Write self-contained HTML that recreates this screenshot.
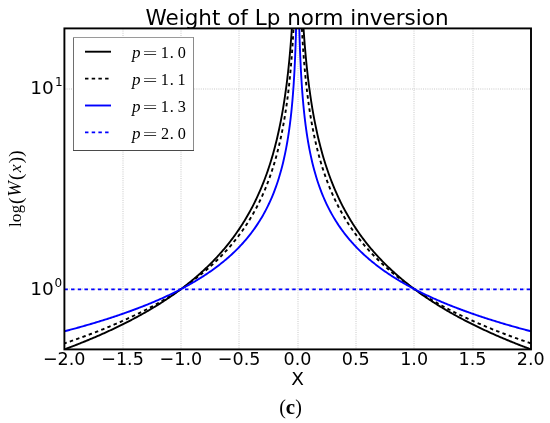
<!DOCTYPE html>
<html><head><meta charset="utf-8"><title>Weight of Lp norm inversion</title><style>
html,body{margin:0;padding:0;background:#fff;}
svg{display:block;}
.sans{font-family:"DejaVu Sans","Liberation Sans",sans-serif;}
.serif{font-family:"Liberation Serif","DejaVu Serif",serif;}
</style></head><body>
<svg width="550" height="423" viewBox="0 0 550 423">
<defs><clipPath id="ax"><rect x="64.4" y="28.4" width="466.6" height="321.0"/></clipPath></defs>
<rect x="0" y="0" width="550" height="423" fill="#fff"/>
<g stroke="#c8c8c8" stroke-width="1" stroke-dasharray="1 1.2">
<line x1="123.0" y1="28.40" x2="123.0" y2="349.40"/>
<line x1="181.0" y1="28.40" x2="181.0" y2="349.40"/>
<line x1="239.0" y1="28.40" x2="239.0" y2="349.40"/>
<line x1="298.0" y1="28.40" x2="298.0" y2="349.40"/>
<line x1="356.0" y1="28.40" x2="356.0" y2="349.40"/>
<line x1="414.0" y1="28.40" x2="414.0" y2="349.40"/>
<line x1="473.0" y1="28.40" x2="473.0" y2="349.40"/>
<line x1="64.40" y1="289.0" x2="531.00" y2="289.0"/>
<line x1="64.40" y1="89.0" x2="531.00" y2="89.0"/>
</g>
<g clip-path="url(#ax)">
<path d="M64.40,349.40 L65.41,349.02 L66.42,348.64 L67.44,348.26 L68.45,347.88 L69.46,347.49 L70.47,347.11 L71.48,346.72 L72.50,346.33 L73.51,345.93 L74.52,345.54 L75.53,345.15 L76.54,344.75 L77.56,344.35 L78.57,343.95 L79.58,343.55 L80.59,343.14 L81.60,342.73 L82.62,342.33 L83.63,341.92 L84.64,341.50 L85.65,341.09 L86.66,340.67 L87.68,340.25 L88.69,339.83 L89.70,339.41 L90.71,338.99 L91.72,338.56 L92.74,338.13 L93.75,337.70 L94.76,337.27 L95.77,336.83 L96.79,336.40 L97.80,335.96 L98.81,335.51 L99.82,335.07 L100.83,334.62 L101.85,334.18 L102.86,333.73 L103.87,333.27 L104.88,332.82 L105.89,332.36 L106.91,331.90 L107.92,331.44 L108.93,330.97 L109.94,330.50 L110.95,330.03 L111.97,329.56 L112.98,329.08 L113.99,328.61 L115.00,328.13 L116.01,327.64 L117.03,327.16 L118.04,326.67 L119.05,326.18 L120.06,325.68 L121.07,325.18 L122.09,324.68 L123.10,324.18 L124.11,323.67 L125.12,323.17 L126.13,322.65 L127.15,322.14 L128.16,321.62 L129.17,321.10 L130.18,320.58 L131.19,320.05 L132.21,319.52 L133.22,318.98 L134.23,318.45 L135.24,317.91 L136.25,317.36 L137.27,316.82 L138.28,316.27 L139.29,315.71 L140.30,315.15 L141.31,314.59 L142.33,314.03 L143.34,313.46 L144.35,312.89 L145.36,312.31 L146.37,311.73 L147.39,311.15 L148.40,310.56 L149.41,309.97 L150.42,309.37 L151.43,308.77 L152.45,308.17 L153.46,307.56 L154.47,306.95 L155.48,306.33 L156.49,305.71 L157.51,305.08 L158.52,304.45 L159.53,303.82 L160.54,303.18 L161.56,302.53 L162.57,301.88 L163.58,301.23 L164.59,300.57 L165.60,299.90 L166.62,299.24 L167.63,298.56 L168.64,297.88 L169.65,297.20 L170.66,296.51 L171.68,295.81 L172.69,295.11 L173.70,294.40 L174.71,293.69 L175.72,292.97 L176.74,292.24 L177.75,291.51 L178.76,290.78 L179.77,290.03 L180.78,289.28 L181.80,288.53 L182.81,287.76 L183.82,286.99 L184.83,286.22 L185.84,285.43 L186.86,284.64 L187.87,283.84 L188.88,283.04 L189.89,282.22 L190.90,281.40 L191.92,280.57 L192.93,279.74 L193.94,278.89 L194.95,278.04 L195.96,277.18 L196.98,276.31 L197.99,275.43 L199.00,274.54 L200.01,273.65 L201.02,272.74 L202.04,271.82 L203.05,270.90 L204.06,269.96 L205.07,269.02 L206.08,268.06 L207.10,267.10 L208.11,266.12 L209.12,265.13 L210.13,264.13 L211.14,263.12 L212.16,262.09 L213.17,261.06 L214.18,260.01 L215.19,258.95 L216.20,257.88 L217.22,256.79 L218.23,255.69 L219.24,254.57 L220.25,253.44 L221.26,252.30 L222.28,251.14 L223.29,249.96 L224.30,248.77 L225.31,247.56 L226.33,246.34 L227.34,245.09 L228.35,243.83 L229.36,242.55 L230.37,241.26 L231.39,239.94 L232.40,238.60 L233.41,237.24 L234.42,235.86 L235.43,234.46 L236.45,233.03 L237.46,231.58 L238.47,230.11 L239.48,228.61 L240.49,227.08 L241.51,225.53 L242.52,223.95 L243.53,222.34 L244.54,220.70 L245.55,219.02 L246.57,217.32 L247.58,215.58 L248.59,213.80 L249.60,211.99 L250.61,210.14 L251.63,208.25 L252.64,206.32 L253.65,204.34 L254.66,202.32 L255.67,200.25 L256.69,198.13 L257.70,195.95 L258.71,193.72 L259.72,191.43 L260.73,189.08 L261.75,186.67 L262.76,184.18 L263.77,181.63 L264.78,178.99 L265.79,176.27 L266.81,173.47 L267.82,170.57 L268.83,167.57 L269.84,164.47 L270.85,161.25 L271.87,157.90 L272.88,154.43 L273.89,150.80 L274.90,147.02 L275.91,143.07 L276.93,138.93 L277.94,134.59 L278.95,130.01 L279.96,125.18 L280.97,120.07 L281.99,114.64 L283.00,108.85 L284.01,102.64 L285.02,95.96 L286.03,88.72 L286.35,86.36 L286.65,84.01 L286.94,81.66 L287.23,79.30 L287.51,76.95 L287.78,74.59 L288.05,72.24 L288.30,69.89 L288.56,67.53 L288.80,65.18 L289.04,62.82 L289.27,60.47 L289.49,58.12 L289.71,55.76 L289.93,53.41 L290.13,51.06 L290.33,48.70 L290.53,46.35 L290.72,44.00 L290.91,41.64 L291.09,39.29 L291.27,36.93 L291.44,34.58 L291.61,32.23 L291.77,29.87 L291.93,27.52 L292.08,25.16 L292.23,22.81 L292.38,20.46 L292.52,18.10 L292.66,15.75 L292.79,13.40 L292.92,11.04 L293.05,8.69 L293.17,6.33 L293.29,3.98 L293.41,1.63 L293.53,-0.73 L293.64,-1.60 L293.75,-1.60 L293.85,-1.60 L293.95,-1.60 L294.05,-1.60 L294.15,-1.60 L294.25,-1.60 L294.34,-1.60 L294.43,-1.60 L294.52,-1.60 L294.60,-1.60 L294.68,-1.60 L294.76,-1.60 L294.84,-1.60 L294.92,-1.60 L294.99,-1.60 L295.06,-1.60 L295.14,-1.60 L295.20,-1.60 L295.27,-1.60 L295.34,-1.60 L295.40,-1.60 L295.46,-1.60 L295.52,-1.60 L295.58,-1.60 L295.63,-1.60 L295.69,-1.60 L295.74,-1.60 L295.80,-1.60 L295.85,-1.60 L295.90,-1.60 L295.94,-1.60 L295.99,-1.60 L296.04,-1.60 L296.08,-1.60 L296.12,-1.60 L296.17,-1.60 L296.21,-1.60 L296.25,-1.60 L296.29,-1.60 L296.32,-1.60 L296.36,-1.60 L296.40,-1.60 L296.43,-1.60 L296.46,-1.60 L296.50,-1.60 L296.53,-1.60 L296.56,-1.60 L296.59,-1.60 L296.62,-1.60 L296.65,-1.60 L296.68,-1.60 L296.70,-1.60 L296.73,-1.60 L296.76,-1.60 L296.78,-1.60 L296.81,-1.60 L296.83,-1.60 L296.85,-1.60 L296.88,-1.60 L296.90,-1.60 L296.92,-1.60 L296.94,-1.60 L296.96,-1.60 L296.98,-1.60 L297.00,-1.60 L297.02,-1.60 L297.04,-1.60 L297.05,-1.60 L297.07,-1.60 L297.09,-1.60 L297.10,-1.60 L297.12,-1.60 L297.14,-1.60 L297.15,-1.60 L297.17,-1.60 L297.18,-1.60 L297.19,-1.60 L297.21,-1.60 L297.22,-1.60 L297.23,-1.60 L298.17,-1.60 L298.18,-1.60 L298.19,-1.60 L298.21,-1.60 L298.22,-1.60 L298.23,-1.60 L298.25,-1.60 L298.26,-1.60 L298.28,-1.60 L298.30,-1.60 L298.31,-1.60 L298.33,-1.60 L298.35,-1.60 L298.36,-1.60 L298.38,-1.60 L298.40,-1.60 L298.42,-1.60 L298.44,-1.60 L298.46,-1.60 L298.48,-1.60 L298.50,-1.60 L298.52,-1.60 L298.55,-1.60 L298.57,-1.60 L298.59,-1.60 L298.62,-1.60 L298.64,-1.60 L298.67,-1.60 L298.70,-1.60 L298.72,-1.60 L298.75,-1.60 L298.78,-1.60 L298.81,-1.60 L298.84,-1.60 L298.87,-1.60 L298.90,-1.60 L298.94,-1.60 L298.97,-1.60 L299.00,-1.60 L299.04,-1.60 L299.08,-1.60 L299.11,-1.60 L299.15,-1.60 L299.19,-1.60 L299.23,-1.60 L299.28,-1.60 L299.32,-1.60 L299.36,-1.60 L299.41,-1.60 L299.46,-1.60 L299.50,-1.60 L299.55,-1.60 L299.60,-1.60 L299.66,-1.60 L299.71,-1.60 L299.77,-1.60 L299.82,-1.60 L299.88,-1.60 L299.94,-1.60 L300.00,-1.60 L300.06,-1.60 L300.13,-1.60 L300.20,-1.60 L300.26,-1.60 L300.34,-1.60 L300.41,-1.60 L300.48,-1.60 L300.56,-1.60 L300.64,-1.60 L300.72,-1.60 L300.80,-1.60 L300.88,-1.60 L300.97,-1.60 L301.06,-1.60 L301.15,-1.60 L301.25,-1.60 L301.35,-1.60 L301.45,-1.60 L301.55,-1.60 L301.65,-1.60 L301.76,-1.60 L301.87,-0.73 L301.99,1.63 L302.11,3.98 L302.23,6.33 L302.35,8.69 L302.48,11.04 L302.61,13.40 L302.74,15.75 L302.88,18.10 L303.02,20.46 L303.17,22.81 L303.32,25.16 L303.47,27.52 L303.63,29.87 L303.79,32.23 L303.96,34.58 L304.13,36.93 L304.31,39.29 L304.49,41.64 L304.68,44.00 L304.87,46.35 L305.07,48.70 L305.27,51.06 L305.47,53.41 L305.69,55.76 L305.91,58.12 L306.13,60.47 L306.36,62.82 L306.60,65.18 L306.84,67.53 L307.10,69.89 L307.35,72.24 L307.62,74.59 L307.89,76.95 L308.17,79.30 L308.46,81.66 L308.75,84.01 L309.05,86.36 L309.37,88.72 L310.38,95.96 L311.39,102.64 L312.40,108.85 L313.41,114.64 L314.43,120.07 L315.44,125.18 L316.45,130.01 L317.46,134.59 L318.47,138.93 L319.49,143.07 L320.50,147.02 L321.51,150.80 L322.52,154.43 L323.53,157.90 L324.55,161.25 L325.56,164.47 L326.57,167.57 L327.58,170.57 L328.59,173.47 L329.61,176.27 L330.62,178.99 L331.63,181.63 L332.64,184.18 L333.65,186.67 L334.67,189.08 L335.68,191.43 L336.69,193.72 L337.70,195.95 L338.71,198.13 L339.73,200.25 L340.74,202.32 L341.75,204.34 L342.76,206.32 L343.77,208.25 L344.79,210.14 L345.80,211.99 L346.81,213.80 L347.82,215.58 L348.83,217.32 L349.85,219.02 L350.86,220.70 L351.87,222.34 L352.88,223.95 L353.89,225.53 L354.91,227.08 L355.92,228.61 L356.93,230.11 L357.94,231.58 L358.95,233.03 L359.97,234.46 L360.98,235.86 L361.99,237.24 L363.00,238.60 L364.01,239.94 L365.03,241.26 L366.04,242.55 L367.05,243.83 L368.06,245.09 L369.07,246.34 L370.09,247.56 L371.10,248.77 L372.11,249.96 L373.12,251.14 L374.14,252.30 L375.15,253.44 L376.16,254.57 L377.17,255.69 L378.18,256.79 L379.20,257.88 L380.21,258.95 L381.22,260.01 L382.23,261.06 L383.24,262.09 L384.26,263.12 L385.27,264.13 L386.28,265.13 L387.29,266.12 L388.30,267.10 L389.32,268.06 L390.33,269.02 L391.34,269.96 L392.35,270.90 L393.36,271.82 L394.38,272.74 L395.39,273.65 L396.40,274.54 L397.41,275.43 L398.42,276.31 L399.44,277.18 L400.45,278.04 L401.46,278.89 L402.47,279.74 L403.48,280.57 L404.50,281.40 L405.51,282.22 L406.52,283.04 L407.53,283.84 L408.54,284.64 L409.56,285.43 L410.57,286.22 L411.58,286.99 L412.59,287.76 L413.60,288.53 L414.62,289.28 L415.63,290.03 L416.64,290.78 L417.65,291.51 L418.66,292.24 L419.68,292.97 L420.69,293.69 L421.70,294.40 L422.71,295.11 L423.72,295.81 L424.74,296.51 L425.75,297.20 L426.76,297.88 L427.77,298.56 L428.78,299.24 L429.80,299.90 L430.81,300.57 L431.82,301.23 L432.83,301.88 L433.84,302.53 L434.86,303.18 L435.87,303.82 L436.88,304.45 L437.89,305.08 L438.91,305.71 L439.92,306.33 L440.93,306.95 L441.94,307.56 L442.95,308.17 L443.97,308.77 L444.98,309.37 L445.99,309.97 L447.00,310.56 L448.01,311.15 L449.03,311.73 L450.04,312.31 L451.05,312.89 L452.06,313.46 L453.07,314.03 L454.09,314.59 L455.10,315.15 L456.11,315.71 L457.12,316.27 L458.13,316.82 L459.15,317.36 L460.16,317.91 L461.17,318.45 L462.18,318.98 L463.19,319.52 L464.21,320.05 L465.22,320.58 L466.23,321.10 L467.24,321.62 L468.25,322.14 L469.27,322.65 L470.28,323.17 L471.29,323.67 L472.30,324.18 L473.31,324.68 L474.33,325.18 L475.34,325.68 L476.35,326.18 L477.36,326.67 L478.37,327.16 L479.39,327.64 L480.40,328.13 L481.41,328.61 L482.42,329.08 L483.43,329.56 L484.45,330.03 L485.46,330.50 L486.47,330.97 L487.48,331.44 L488.49,331.90 L489.51,332.36 L490.52,332.82 L491.53,333.27 L492.54,333.73 L493.55,334.18 L494.57,334.62 L495.58,335.07 L496.59,335.51 L497.60,335.96 L498.61,336.40 L499.63,336.83 L500.64,337.27 L501.65,337.70 L502.66,338.13 L503.68,338.56 L504.69,338.99 L505.70,339.41 L506.71,339.83 L507.72,340.25 L508.74,340.67 L509.75,341.09 L510.76,341.50 L511.77,341.92 L512.78,342.33 L513.80,342.73 L514.81,343.14 L515.82,343.55 L516.83,343.95 L517.84,344.35 L518.86,344.75 L519.87,345.15 L520.88,345.54 L521.89,345.93 L522.90,346.33 L523.92,346.72 L524.93,347.11 L525.94,347.49 L526.95,347.88 L527.96,348.26 L528.98,348.64 L529.99,349.02 L531.00,349.40" stroke="#000" fill="none" stroke-width="1.9"/>
<path d="M64.40,343.37 L65.41,343.03 L66.42,342.69 L67.44,342.34 L68.45,342.00 L69.46,341.65 L70.47,341.30 L71.48,340.95 L72.50,340.60 L73.51,340.25 L74.52,339.90 L75.53,339.54 L76.54,339.18 L77.56,338.82 L78.57,338.46 L79.58,338.10 L80.59,337.73 L81.60,337.37 L82.62,337.00 L83.63,336.63 L84.64,336.26 L85.65,335.89 L86.66,335.51 L87.68,335.14 L88.69,334.76 L89.70,334.38 L90.71,334.00 L91.72,333.61 L92.74,333.23 L93.75,332.84 L94.76,332.45 L95.77,332.06 L96.79,331.66 L97.80,331.27 L98.81,330.87 L99.82,330.47 L100.83,330.07 L101.85,329.67 L102.86,329.26 L103.87,328.85 L104.88,328.44 L105.89,328.03 L106.91,327.62 L107.92,327.20 L108.93,326.78 L109.94,326.36 L110.95,325.94 L111.97,325.51 L112.98,325.08 L113.99,324.65 L115.00,324.22 L116.01,323.79 L117.03,323.35 L118.04,322.91 L119.05,322.47 L120.06,322.02 L121.07,321.57 L122.09,321.12 L123.10,320.67 L124.11,320.22 L125.12,319.76 L126.13,319.30 L127.15,318.83 L128.16,318.37 L129.17,317.90 L130.18,317.43 L131.19,316.95 L132.21,316.48 L133.22,315.99 L134.23,315.51 L135.24,315.03 L136.25,314.54 L137.27,314.04 L138.28,313.55 L139.29,313.05 L140.30,312.55 L141.31,312.04 L142.33,311.53 L143.34,311.02 L144.35,310.51 L145.36,309.99 L146.37,309.47 L147.39,308.94 L148.40,308.41 L149.41,307.88 L150.42,307.34 L151.43,306.80 L152.45,306.26 L153.46,305.71 L154.47,305.16 L155.48,304.60 L156.49,304.04 L157.51,303.48 L158.52,302.91 L159.53,302.34 L160.54,301.77 L161.56,301.19 L162.57,300.60 L163.58,300.01 L164.59,299.42 L165.60,298.82 L166.62,298.22 L167.63,297.61 L168.64,297.00 L169.65,296.39 L170.66,295.76 L171.68,295.14 L172.69,294.51 L173.70,293.87 L174.71,293.23 L175.72,292.58 L176.74,291.93 L177.75,291.27 L178.76,290.61 L179.77,289.94 L180.78,289.26 L181.80,288.58 L182.81,287.89 L183.82,287.20 L184.83,286.50 L185.84,285.80 L186.86,285.09 L187.87,284.37 L188.88,283.64 L189.89,282.91 L190.90,282.17 L191.92,281.43 L192.93,280.67 L193.94,279.91 L194.95,279.15 L195.96,278.37 L196.98,277.59 L197.99,276.80 L199.00,276.00 L200.01,275.19 L201.02,274.37 L202.04,273.55 L203.05,272.72 L204.06,271.88 L205.07,271.02 L206.08,270.16 L207.10,269.29 L208.11,268.41 L209.12,267.52 L210.13,266.62 L211.14,265.71 L212.16,264.79 L213.17,263.86 L214.18,262.92 L215.19,261.96 L216.20,261.00 L217.22,260.02 L218.23,259.03 L219.24,258.02 L220.25,257.01 L221.26,255.98 L222.28,254.93 L223.29,253.87 L224.30,252.80 L225.31,251.71 L226.33,250.61 L227.34,249.49 L228.35,248.36 L229.36,247.21 L230.37,246.04 L231.39,244.85 L232.40,243.65 L233.41,242.43 L234.42,241.18 L235.43,239.92 L236.45,238.64 L237.46,237.33 L238.47,236.01 L239.48,234.66 L240.49,233.28 L241.51,231.88 L242.52,230.46 L243.53,229.01 L244.54,227.53 L245.55,226.03 L246.57,224.49 L247.58,222.93 L248.59,221.33 L249.60,219.70 L250.61,218.03 L251.63,216.33 L252.64,214.59 L253.65,212.81 L254.66,210.99 L255.67,209.13 L256.69,207.22 L257.70,205.27 L258.71,203.26 L259.72,201.20 L260.73,199.08 L261.75,196.91 L262.76,194.67 L263.77,192.37 L264.78,190.00 L265.79,187.55 L266.81,185.03 L267.82,182.42 L268.83,179.72 L269.84,176.93 L270.85,174.03 L271.87,171.02 L272.88,167.89 L273.89,164.63 L274.90,161.23 L275.91,157.67 L276.93,153.95 L277.94,150.04 L278.95,145.92 L279.96,141.57 L280.97,136.97 L281.99,132.08 L283.00,126.87 L284.01,121.28 L285.02,115.27 L286.03,108.75 L286.35,106.63 L286.65,104.52 L286.94,102.40 L287.23,100.28 L287.51,98.16 L287.78,96.04 L288.05,93.92 L288.30,91.81 L288.56,89.69 L288.80,87.57 L289.04,85.45 L289.27,83.33 L289.49,81.21 L289.71,79.10 L289.93,76.98 L290.13,74.86 L290.33,72.74 L290.53,70.62 L290.72,68.50 L290.91,66.38 L291.09,64.27 L291.27,62.15 L291.44,60.03 L291.61,57.91 L291.77,55.79 L291.93,53.67 L292.08,51.56 L292.23,49.44 L292.38,47.32 L292.52,45.20 L292.66,43.08 L292.79,40.96 L292.92,38.85 L293.05,36.73 L293.17,34.61 L293.29,32.49 L293.41,30.37 L293.53,28.25 L293.64,26.14 L293.75,24.02 L293.85,21.90 L293.95,19.78 L294.05,17.66 L294.15,15.54 L294.25,13.42 L294.34,11.31 L294.43,9.19 L294.52,7.07 L294.60,4.95 L294.68,2.83 L294.76,0.71 L294.84,-1.41 L294.92,-1.60 L294.99,-1.60 L295.06,-1.60 L295.14,-1.60 L295.20,-1.60 L295.27,-1.60 L295.34,-1.60 L295.40,-1.60 L295.46,-1.60 L295.52,-1.60 L295.58,-1.60 L295.63,-1.60 L295.69,-1.60 L295.74,-1.60 L295.80,-1.60 L295.85,-1.60 L295.90,-1.60 L295.94,-1.60 L295.99,-1.60 L296.04,-1.60 L296.08,-1.60 L296.12,-1.60 L296.17,-1.60 L296.21,-1.60 L296.25,-1.60 L296.29,-1.60 L296.32,-1.60 L296.36,-1.60 L296.40,-1.60 L296.43,-1.60 L296.46,-1.60 L296.50,-1.60 L296.53,-1.60 L296.56,-1.60 L296.59,-1.60 L296.62,-1.60 L296.65,-1.60 L296.68,-1.60 L296.70,-1.60 L296.73,-1.60 L296.76,-1.60 L296.78,-1.60 L296.81,-1.60 L296.83,-1.60 L296.85,-1.60 L296.88,-1.60 L296.90,-1.60 L296.92,-1.60 L296.94,-1.60 L296.96,-1.60 L296.98,-1.60 L297.00,-1.60 L297.02,-1.60 L297.04,-1.60 L297.05,-1.60 L297.07,-1.60 L297.09,-1.60 L297.10,-1.60 L297.12,-1.60 L297.14,-1.60 L297.15,-1.60 L297.17,-1.60 L297.18,-1.60 L297.19,-1.60 L297.21,-1.60 L297.22,-1.60 L297.23,-1.60" stroke="#000" fill="none" stroke-width="1.9" stroke-dasharray="3.45 3.25" stroke-dashoffset="1.00"/>
<path d="M298.17,-1.60 L298.18,-1.60 L298.19,-1.60 L298.21,-1.60 L298.22,-1.60 L298.23,-1.60 L298.25,-1.60 L298.26,-1.60 L298.28,-1.60 L298.30,-1.60 L298.31,-1.60 L298.33,-1.60 L298.35,-1.60 L298.36,-1.60 L298.38,-1.60 L298.40,-1.60 L298.42,-1.60 L298.44,-1.60 L298.46,-1.60 L298.48,-1.60 L298.50,-1.60 L298.52,-1.60 L298.55,-1.60 L298.57,-1.60 L298.59,-1.60 L298.62,-1.60 L298.64,-1.60 L298.67,-1.60 L298.70,-1.60 L298.72,-1.60 L298.75,-1.60 L298.78,-1.60 L298.81,-1.60 L298.84,-1.60 L298.87,-1.60 L298.90,-1.60 L298.94,-1.60 L298.97,-1.60 L299.00,-1.60 L299.04,-1.60 L299.08,-1.60 L299.11,-1.60 L299.15,-1.60 L299.19,-1.60 L299.23,-1.60 L299.28,-1.60 L299.32,-1.60 L299.36,-1.60 L299.41,-1.60 L299.46,-1.60 L299.50,-1.60 L299.55,-1.60 L299.60,-1.60 L299.66,-1.60 L299.71,-1.60 L299.77,-1.60 L299.82,-1.60 L299.88,-1.60 L299.94,-1.60 L300.00,-1.60 L300.06,-1.60 L300.13,-1.60 L300.20,-1.60 L300.26,-1.60 L300.34,-1.60 L300.41,-1.60 L300.48,-1.60 L300.56,-1.41 L300.64,0.71 L300.72,2.83 L300.80,4.95 L300.88,7.07 L300.97,9.19 L301.06,11.31 L301.15,13.42 L301.25,15.54 L301.35,17.66 L301.45,19.78 L301.55,21.90 L301.65,24.02 L301.76,26.14 L301.87,28.25 L301.99,30.37 L302.11,32.49 L302.23,34.61 L302.35,36.73 L302.48,38.85 L302.61,40.96 L302.74,43.08 L302.88,45.20 L303.02,47.32 L303.17,49.44 L303.32,51.56 L303.47,53.67 L303.63,55.79 L303.79,57.91 L303.96,60.03 L304.13,62.15 L304.31,64.27 L304.49,66.38 L304.68,68.50 L304.87,70.62 L305.07,72.74 L305.27,74.86 L305.47,76.98 L305.69,79.10 L305.91,81.21 L306.13,83.33 L306.36,85.45 L306.60,87.57 L306.84,89.69 L307.10,91.81 L307.35,93.92 L307.62,96.04 L307.89,98.16 L308.17,100.28 L308.46,102.40 L308.75,104.52 L309.05,106.63 L309.37,108.75 L310.38,115.27 L311.39,121.28 L312.40,126.87 L313.41,132.08 L314.43,136.97 L315.44,141.57 L316.45,145.92 L317.46,150.04 L318.47,153.95 L319.49,157.67 L320.50,161.23 L321.51,164.63 L322.52,167.89 L323.53,171.02 L324.55,174.03 L325.56,176.93 L326.57,179.72 L327.58,182.42 L328.59,185.03 L329.61,187.55 L330.62,190.00 L331.63,192.37 L332.64,194.67 L333.65,196.91 L334.67,199.08 L335.68,201.20 L336.69,203.26 L337.70,205.27 L338.71,207.22 L339.73,209.13 L340.74,210.99 L341.75,212.81 L342.76,214.59 L343.77,216.33 L344.79,218.03 L345.80,219.70 L346.81,221.33 L347.82,222.93 L348.83,224.49 L349.85,226.03 L350.86,227.53 L351.87,229.01 L352.88,230.46 L353.89,231.88 L354.91,233.28 L355.92,234.66 L356.93,236.01 L357.94,237.33 L358.95,238.64 L359.97,239.92 L360.98,241.18 L361.99,242.43 L363.00,243.65 L364.01,244.85 L365.03,246.04 L366.04,247.21 L367.05,248.36 L368.06,249.49 L369.07,250.61 L370.09,251.71 L371.10,252.80 L372.11,253.87 L373.12,254.93 L374.14,255.98 L375.15,257.01 L376.16,258.02 L377.17,259.03 L378.18,260.02 L379.20,261.00 L380.21,261.96 L381.22,262.92 L382.23,263.86 L383.24,264.79 L384.26,265.71 L385.27,266.62 L386.28,267.52 L387.29,268.41 L388.30,269.29 L389.32,270.16 L390.33,271.02 L391.34,271.88 L392.35,272.72 L393.36,273.55 L394.38,274.37 L395.39,275.19 L396.40,276.00 L397.41,276.80 L398.42,277.59 L399.44,278.37 L400.45,279.15 L401.46,279.91 L402.47,280.67 L403.48,281.43 L404.50,282.17 L405.51,282.91 L406.52,283.64 L407.53,284.37 L408.54,285.09 L409.56,285.80 L410.57,286.50 L411.58,287.20 L412.59,287.89 L413.60,288.58 L414.62,289.26 L415.63,289.94 L416.64,290.61 L417.65,291.27 L418.66,291.93 L419.68,292.58 L420.69,293.23 L421.70,293.87 L422.71,294.51 L423.72,295.14 L424.74,295.76 L425.75,296.39 L426.76,297.00 L427.77,297.61 L428.78,298.22 L429.80,298.82 L430.81,299.42 L431.82,300.01 L432.83,300.60 L433.84,301.19 L434.86,301.77 L435.87,302.34 L436.88,302.91 L437.89,303.48 L438.91,304.04 L439.92,304.60 L440.93,305.16 L441.94,305.71 L442.95,306.26 L443.97,306.80 L444.98,307.34 L445.99,307.88 L447.00,308.41 L448.01,308.94 L449.03,309.47 L450.04,309.99 L451.05,310.51 L452.06,311.02 L453.07,311.53 L454.09,312.04 L455.10,312.55 L456.11,313.05 L457.12,313.55 L458.13,314.04 L459.15,314.54 L460.16,315.03 L461.17,315.51 L462.18,315.99 L463.19,316.48 L464.21,316.95 L465.22,317.43 L466.23,317.90 L467.24,318.37 L468.25,318.83 L469.27,319.30 L470.28,319.76 L471.29,320.22 L472.30,320.67 L473.31,321.12 L474.33,321.57 L475.34,322.02 L476.35,322.47 L477.36,322.91 L478.37,323.35 L479.39,323.79 L480.40,324.22 L481.41,324.65 L482.42,325.08 L483.43,325.51 L484.45,325.94 L485.46,326.36 L486.47,326.78 L487.48,327.20 L488.49,327.62 L489.51,328.03 L490.52,328.44 L491.53,328.85 L492.54,329.26 L493.55,329.67 L494.57,330.07 L495.58,330.47 L496.59,330.87 L497.60,331.27 L498.61,331.66 L499.63,332.06 L500.64,332.45 L501.65,332.84 L502.66,333.23 L503.68,333.61 L504.69,334.00 L505.70,334.38 L506.71,334.76 L507.72,335.14 L508.74,335.51 L509.75,335.89 L510.76,336.26 L511.77,336.63 L512.78,337.00 L513.80,337.37 L514.81,337.73 L515.82,338.10 L516.83,338.46 L517.84,338.82 L518.86,339.18 L519.87,339.54 L520.88,339.90 L521.89,340.25 L522.90,340.60 L523.92,340.95 L524.93,341.30 L525.94,341.65 L526.95,342.00 L527.96,342.34 L528.98,342.69 L529.99,343.03 L531.00,343.37" stroke="#000" fill="none" stroke-width="1.9" stroke-dasharray="3.45 3.25" stroke-dashoffset="1.12"/>
<path d="M64.40,331.31 L65.41,331.04 L66.42,330.77 L67.44,330.51 L68.45,330.24 L69.46,329.97 L70.47,329.70 L71.48,329.43 L72.50,329.15 L73.51,328.88 L74.52,328.60 L75.53,328.33 L76.54,328.05 L77.56,327.77 L78.57,327.49 L79.58,327.21 L80.59,326.92 L81.60,326.64 L82.62,326.35 L83.63,326.07 L84.64,325.78 L85.65,325.49 L86.66,325.20 L87.68,324.90 L88.69,324.61 L89.70,324.31 L90.71,324.02 L91.72,323.72 L92.74,323.42 L93.75,323.12 L94.76,322.81 L95.77,322.51 L96.79,322.20 L97.80,321.89 L98.81,321.59 L99.82,321.27 L100.83,320.96 L101.85,320.65 L102.86,320.33 L103.87,320.02 L104.88,319.70 L105.89,319.38 L106.91,319.05 L107.92,318.73 L108.93,318.40 L109.94,318.08 L110.95,317.75 L111.97,317.42 L112.98,317.08 L113.99,316.75 L115.00,316.41 L116.01,316.07 L117.03,315.73 L118.04,315.39 L119.05,315.05 L120.06,314.70 L121.07,314.35 L122.09,314.00 L123.10,313.65 L124.11,313.30 L125.12,312.94 L126.13,312.58 L127.15,312.22 L128.16,311.86 L129.17,311.50 L130.18,311.13 L131.19,310.76 L132.21,310.39 L133.22,310.01 L134.23,309.64 L135.24,309.26 L136.25,308.88 L137.27,308.50 L138.28,308.11 L139.29,307.72 L140.30,307.33 L141.31,306.94 L142.33,306.54 L143.34,306.15 L144.35,305.75 L145.36,305.34 L146.37,304.94 L147.39,304.53 L148.40,304.12 L149.41,303.70 L150.42,303.28 L151.43,302.86 L152.45,302.44 L153.46,302.02 L154.47,301.59 L155.48,301.16 L156.49,300.72 L157.51,300.28 L158.52,299.84 L159.53,299.40 L160.54,298.95 L161.56,298.50 L162.57,298.04 L163.58,297.58 L164.59,297.12 L165.60,296.66 L166.62,296.19 L167.63,295.72 L168.64,295.24 L169.65,294.76 L170.66,294.28 L171.68,293.79 L172.69,293.30 L173.70,292.81 L174.71,292.31 L175.72,291.80 L176.74,291.30 L177.75,290.78 L178.76,290.27 L179.77,289.75 L180.78,289.22 L181.80,288.69 L182.81,288.16 L183.82,287.62 L184.83,287.08 L185.84,286.53 L186.86,285.97 L187.87,285.42 L188.88,284.85 L189.89,284.28 L190.90,283.71 L191.92,283.13 L192.93,282.54 L193.94,281.95 L194.95,281.35 L195.96,280.75 L196.98,280.14 L197.99,279.53 L199.00,278.91 L200.01,278.28 L201.02,277.64 L202.04,277.00 L203.05,276.35 L204.06,275.70 L205.07,275.04 L206.08,274.37 L207.10,273.69 L208.11,273.01 L209.12,272.32 L210.13,271.62 L211.14,270.91 L212.16,270.19 L213.17,269.47 L214.18,268.73 L215.19,267.99 L216.20,267.24 L217.22,266.48 L218.23,265.71 L219.24,264.93 L220.25,264.13 L221.26,263.33 L222.28,262.52 L223.29,261.70 L224.30,260.86 L225.31,260.02 L226.33,259.16 L227.34,258.29 L228.35,257.41 L229.36,256.51 L230.37,255.60 L231.39,254.68 L232.40,253.75 L233.41,252.79 L234.42,251.83 L235.43,250.85 L236.45,249.85 L237.46,248.83 L238.47,247.80 L239.48,246.75 L240.49,245.68 L241.51,244.60 L242.52,243.49 L243.53,242.36 L244.54,241.21 L245.55,240.04 L246.57,238.85 L247.58,237.63 L248.59,236.39 L249.60,235.12 L250.61,233.82 L251.63,232.50 L252.64,231.15 L253.65,229.76 L254.66,228.35 L255.67,226.90 L256.69,225.41 L257.70,223.89 L258.71,222.33 L259.72,220.73 L260.73,219.08 L261.75,217.39 L262.76,215.65 L263.77,213.86 L264.78,212.02 L265.79,210.12 L266.81,208.15 L267.82,206.12 L268.83,204.03 L269.84,201.85 L270.85,199.60 L271.87,197.26 L272.88,194.82 L273.89,192.29 L274.90,189.64 L275.91,186.88 L276.93,183.98 L277.94,180.94 L278.95,177.73 L279.96,174.35 L280.97,170.77 L281.99,166.97 L283.00,162.92 L284.01,158.57 L285.02,153.89 L286.03,148.83 L286.35,147.18 L286.65,145.53 L286.94,143.88 L287.23,142.24 L287.51,140.59 L287.78,138.94 L288.05,137.29 L288.30,135.65 L288.56,134.00 L288.80,132.35 L289.04,130.70 L289.27,129.05 L289.49,127.41 L289.71,125.76 L289.93,124.11 L290.13,122.46 L290.33,120.82 L290.53,119.17 L290.72,117.52 L290.91,115.87 L291.09,114.23 L291.27,112.58 L291.44,110.93 L291.61,109.28 L291.77,107.64 L291.93,105.99 L292.08,104.34 L292.23,102.69 L292.38,101.04 L292.52,99.40 L292.66,97.75 L292.79,96.10 L292.92,94.45 L293.05,92.81 L293.17,91.16 L293.29,89.51 L293.41,87.86 L293.53,86.22 L293.64,84.57 L293.75,82.92 L293.85,81.27 L293.95,79.63 L294.05,77.98 L294.15,76.33 L294.25,74.68 L294.34,73.03 L294.43,71.39 L294.52,69.74 L294.60,68.09 L294.68,66.44 L294.76,64.80 L294.84,63.15 L294.92,61.50 L294.99,59.85 L295.06,58.21 L295.14,56.56 L295.20,54.91 L295.27,53.26 L295.34,51.61 L295.40,49.97 L295.46,48.32 L295.52,46.67 L295.58,45.02 L295.63,43.38 L295.69,41.73 L295.74,40.08 L295.80,38.43 L295.85,36.79 L295.90,35.14 L295.94,33.49 L295.99,31.84 L296.04,30.19 L296.08,28.55 L296.12,26.90 L296.17,25.25 L296.21,23.61 L296.25,21.96 L296.29,20.31 L296.32,18.66 L296.36,17.01 L296.40,15.36 L296.43,13.72 L296.46,12.07 L296.50,10.42 L296.53,8.78 L296.56,7.13 L296.59,5.48 L296.62,3.83 L296.65,2.19 L296.68,0.54 L296.70,-1.11 L296.73,-1.60 L296.76,-1.60 L296.78,-1.60 L296.81,-1.60 L296.83,-1.60 L296.85,-1.60 L296.88,-1.60 L296.90,-1.60 L296.92,-1.60 L296.94,-1.60 L296.96,-1.60 L296.98,-1.60 L297.00,-1.60 L297.02,-1.60 L297.04,-1.60 L297.05,-1.60 L297.07,-1.60 L297.09,-1.60 L297.10,-1.60 L297.12,-1.60 L297.14,-1.60 L297.15,-1.60 L297.17,-1.60 L297.18,-1.60 L297.19,-1.60 L297.21,-1.60 L297.22,-1.60 L297.23,-1.60 L298.17,-1.60 L298.18,-1.60 L298.19,-1.60 L298.21,-1.60 L298.22,-1.60 L298.23,-1.60 L298.25,-1.60 L298.26,-1.60 L298.28,-1.60 L298.30,-1.60 L298.31,-1.60 L298.33,-1.60 L298.35,-1.60 L298.36,-1.60 L298.38,-1.60 L298.40,-1.60 L298.42,-1.60 L298.44,-1.60 L298.46,-1.60 L298.48,-1.60 L298.50,-1.60 L298.52,-1.60 L298.55,-1.60 L298.57,-1.60 L298.59,-1.60 L298.62,-1.60 L298.64,-1.60 L298.67,-1.60 L298.70,-1.11 L298.72,0.54 L298.75,2.19 L298.78,3.83 L298.81,5.48 L298.84,7.13 L298.87,8.78 L298.90,10.42 L298.94,12.07 L298.97,13.72 L299.00,15.36 L299.04,17.01 L299.08,18.66 L299.11,20.31 L299.15,21.96 L299.19,23.61 L299.23,25.25 L299.28,26.90 L299.32,28.55 L299.36,30.19 L299.41,31.84 L299.46,33.49 L299.50,35.14 L299.55,36.79 L299.60,38.43 L299.66,40.08 L299.71,41.73 L299.77,43.38 L299.82,45.02 L299.88,46.67 L299.94,48.32 L300.00,49.97 L300.06,51.61 L300.13,53.26 L300.20,54.91 L300.26,56.56 L300.34,58.21 L300.41,59.85 L300.48,61.50 L300.56,63.15 L300.64,64.80 L300.72,66.44 L300.80,68.09 L300.88,69.74 L300.97,71.39 L301.06,73.03 L301.15,74.68 L301.25,76.33 L301.35,77.98 L301.45,79.63 L301.55,81.27 L301.65,82.92 L301.76,84.57 L301.87,86.22 L301.99,87.86 L302.11,89.51 L302.23,91.16 L302.35,92.81 L302.48,94.45 L302.61,96.10 L302.74,97.75 L302.88,99.40 L303.02,101.04 L303.17,102.69 L303.32,104.34 L303.47,105.99 L303.63,107.64 L303.79,109.28 L303.96,110.93 L304.13,112.58 L304.31,114.23 L304.49,115.87 L304.68,117.52 L304.87,119.17 L305.07,120.82 L305.27,122.46 L305.47,124.11 L305.69,125.76 L305.91,127.41 L306.13,129.05 L306.36,130.70 L306.60,132.35 L306.84,134.00 L307.10,135.65 L307.35,137.29 L307.62,138.94 L307.89,140.59 L308.17,142.24 L308.46,143.88 L308.75,145.53 L309.05,147.18 L309.37,148.83 L310.38,153.89 L311.39,158.57 L312.40,162.92 L313.41,166.97 L314.43,170.77 L315.44,174.35 L316.45,177.73 L317.46,180.94 L318.47,183.98 L319.49,186.88 L320.50,189.64 L321.51,192.29 L322.52,194.82 L323.53,197.26 L324.55,199.60 L325.56,201.85 L326.57,204.03 L327.58,206.12 L328.59,208.15 L329.61,210.12 L330.62,212.02 L331.63,213.86 L332.64,215.65 L333.65,217.39 L334.67,219.08 L335.68,220.73 L336.69,222.33 L337.70,223.89 L338.71,225.41 L339.73,226.90 L340.74,228.35 L341.75,229.76 L342.76,231.15 L343.77,232.50 L344.79,233.82 L345.80,235.12 L346.81,236.39 L347.82,237.63 L348.83,238.85 L349.85,240.04 L350.86,241.21 L351.87,242.36 L352.88,243.49 L353.89,244.60 L354.91,245.68 L355.92,246.75 L356.93,247.80 L357.94,248.83 L358.95,249.85 L359.97,250.85 L360.98,251.83 L361.99,252.79 L363.00,253.75 L364.01,254.68 L365.03,255.60 L366.04,256.51 L367.05,257.41 L368.06,258.29 L369.07,259.16 L370.09,260.02 L371.10,260.86 L372.11,261.70 L373.12,262.52 L374.14,263.33 L375.15,264.13 L376.16,264.93 L377.17,265.71 L378.18,266.48 L379.20,267.24 L380.21,267.99 L381.22,268.73 L382.23,269.47 L383.24,270.19 L384.26,270.91 L385.27,271.62 L386.28,272.32 L387.29,273.01 L388.30,273.69 L389.32,274.37 L390.33,275.04 L391.34,275.70 L392.35,276.35 L393.36,277.00 L394.38,277.64 L395.39,278.28 L396.40,278.91 L397.41,279.53 L398.42,280.14 L399.44,280.75 L400.45,281.35 L401.46,281.95 L402.47,282.54 L403.48,283.13 L404.50,283.71 L405.51,284.28 L406.52,284.85 L407.53,285.42 L408.54,285.97 L409.56,286.53 L410.57,287.08 L411.58,287.62 L412.59,288.16 L413.60,288.69 L414.62,289.22 L415.63,289.75 L416.64,290.27 L417.65,290.78 L418.66,291.30 L419.68,291.80 L420.69,292.31 L421.70,292.81 L422.71,293.30 L423.72,293.79 L424.74,294.28 L425.75,294.76 L426.76,295.24 L427.77,295.72 L428.78,296.19 L429.80,296.66 L430.81,297.12 L431.82,297.58 L432.83,298.04 L433.84,298.50 L434.86,298.95 L435.87,299.40 L436.88,299.84 L437.89,300.28 L438.91,300.72 L439.92,301.16 L440.93,301.59 L441.94,302.02 L442.95,302.44 L443.97,302.86 L444.98,303.28 L445.99,303.70 L447.00,304.12 L448.01,304.53 L449.03,304.94 L450.04,305.34 L451.05,305.75 L452.06,306.15 L453.07,306.54 L454.09,306.94 L455.10,307.33 L456.11,307.72 L457.12,308.11 L458.13,308.50 L459.15,308.88 L460.16,309.26 L461.17,309.64 L462.18,310.01 L463.19,310.39 L464.21,310.76 L465.22,311.13 L466.23,311.50 L467.24,311.86 L468.25,312.22 L469.27,312.58 L470.28,312.94 L471.29,313.30 L472.30,313.65 L473.31,314.00 L474.33,314.35 L475.34,314.70 L476.35,315.05 L477.36,315.39 L478.37,315.73 L479.39,316.07 L480.40,316.41 L481.41,316.75 L482.42,317.08 L483.43,317.42 L484.45,317.75 L485.46,318.08 L486.47,318.40 L487.48,318.73 L488.49,319.05 L489.51,319.38 L490.52,319.70 L491.53,320.02 L492.54,320.33 L493.55,320.65 L494.57,320.96 L495.58,321.27 L496.59,321.59 L497.60,321.89 L498.61,322.20 L499.63,322.51 L500.64,322.81 L501.65,323.12 L502.66,323.42 L503.68,323.72 L504.69,324.02 L505.70,324.31 L506.71,324.61 L507.72,324.90 L508.74,325.20 L509.75,325.49 L510.76,325.78 L511.77,326.07 L512.78,326.35 L513.80,326.64 L514.81,326.92 L515.82,327.21 L516.83,327.49 L517.84,327.77 L518.86,328.05 L519.87,328.33 L520.88,328.60 L521.89,328.88 L522.90,329.15 L523.92,329.43 L524.93,329.70 L525.94,329.97 L526.95,330.24 L527.96,330.51 L528.98,330.77 L529.99,331.04 L531.00,331.31" stroke="#0000ff" fill="none" stroke-width="1.9"/>
<path d="M64.40,289.33 L531.00,289.33" stroke="#0000ff" fill="none" stroke-width="1.9" stroke-dasharray="3.45 3.25"/>

</g>
<rect x="64.4" y="28.4" width="466.60" height="321.00" fill="none" stroke="#000" stroke-width="1.9"/>
<!-- legend -->
<rect x="73.3" y="37.3" width="120" height="113.1" fill="#fff" stroke="none"/>
<g stroke-width="1" fill="none">
<line x1="73.5" y1="37" x2="73.5" y2="151" stroke="#6e6e6e"/>
<line x1="73" y1="37.5" x2="194" y2="37.5" stroke="#9a9a9a"/>
<line x1="193.5" y1="37" x2="193.5" y2="151" stroke="#8a8a8a"/>
<line x1="73" y1="150.5" x2="194" y2="150.5" stroke="#4a4a4a"/>
</g>
<g stroke-width="1.9" fill="none">
<line x1="85" y1="51.7" x2="111" y2="51.7" stroke="#000"/>
<line x1="85" y1="78.6" x2="111" y2="78.6" stroke="#000" stroke-dasharray="3.45 3.25"/>
<line x1="85" y1="105.5" x2="111" y2="105.5" stroke="#0000ff"/>
<line x1="85" y1="132.4" x2="111" y2="132.4" stroke="#0000ff" stroke-dasharray="3.45 3.25"/>
</g>
<g class="serif" font-size="16.2" fill="#000">
<text x="131.91" y="57.80" font-style="italic" font-size="17.0">p</text><text transform="translate(142.63,58.90) scale(1.60,1)" fill="#3a3a3a">=</text><text y="57.60"><tspan x="160.67">1</tspan><tspan x="169.67">.</tspan><tspan x="177.70">0</tspan></text>
<text x="131.91" y="84.80" font-style="italic" font-size="17.0">p</text><text transform="translate(142.63,85.90) scale(1.60,1)" fill="#3a3a3a">=</text><text y="84.60"><tspan x="160.67">1</tspan><tspan x="169.67">.</tspan><tspan x="177.47">1</tspan></text>
<text x="131.91" y="111.80" font-style="italic" font-size="17.0">p</text><text transform="translate(142.63,112.90) scale(1.60,1)" fill="#3a3a3a">=</text><text y="111.60"><tspan x="160.67">1</tspan><tspan x="169.67">.</tspan><tspan x="177.63">3</tspan></text>
<text x="131.91" y="138.80" font-style="italic" font-size="17.0">p</text><text transform="translate(142.63,139.90) scale(1.60,1)" fill="#3a3a3a">=</text><text y="138.60"><tspan x="160.99">2</tspan><tspan x="169.67">.</tspan><tspan x="177.70">0</tspan></text>

</g>
<g class="sans" font-size="18.5" fill="#000">
<text transform="translate(64.20,365.2) scale(0.95,1)" text-anchor="middle">−2.0</text>
<text transform="translate(122.53,365.2) scale(0.95,1)" text-anchor="middle">−1.5</text>
<text transform="translate(180.85,365.2) scale(0.95,1)" text-anchor="middle">−1.0</text>
<text transform="translate(239.18,365.2) scale(0.95,1)" text-anchor="middle">−0.5</text>
<text transform="translate(297.50,365.2) scale(0.95,1)" text-anchor="middle">0.0</text>
<text transform="translate(355.82,365.2) scale(0.95,1)" text-anchor="middle">0.5</text>
<text transform="translate(414.15,365.2) scale(0.95,1)" text-anchor="middle">1.0</text>
<text transform="translate(472.48,365.2) scale(0.95,1)" text-anchor="middle">1.5</text>
<text transform="translate(530.80,365.2) scale(0.95,1)" text-anchor="middle">2.0</text>

<text x="297.7" y="385.2" text-anchor="middle">X</text>
<text x="53.8" y="94.2" text-anchor="end">10</text><text x="55" y="86.2" font-size="12">1</text>
<text x="53.8" y="295.4" text-anchor="end">10</text><text x="54.6" y="286.8" font-size="12">0</text>
</g>
<text class="sans" x="297" y="24.8" text-anchor="middle" font-size="21.5">Weight of Lp norm inversion</text>
<g class="serif" fill="#000">
<text transform="translate(21.10,227.12) rotate(-90)" font-size="16.7">l</text>
<text transform="translate(21.10,222.24) rotate(-90) scale(1.040,1)" font-size="16.7">o</text>
<text transform="translate(21.10,213.22) rotate(-90)" font-size="16.7">g</text>
<text transform="translate(21.50,203.97) rotate(-90)" font-size="19">(</text>
<text transform="translate(20.90,196.68) rotate(-90) scale(1.030,1)" font-size="18.1" font-style="italic">W</text>
<text transform="translate(21.50,180.07) rotate(-90)" font-size="19">(</text>
<text transform="translate(21.30,172.21) rotate(-90)" font-size="17.5" font-style="italic">x</text>
<text transform="translate(21.50,163.30) rotate(-90)" font-size="19">)</text>
<text transform="translate(21.50,156.80) rotate(-90)" font-size="19">)</text>

</g>
<text class="serif" x="290.5" y="414.4" text-anchor="middle" font-size="20">(<tspan font-weight="bold" font-size="21">c</tspan>)</text>
</svg>
</body></html>
